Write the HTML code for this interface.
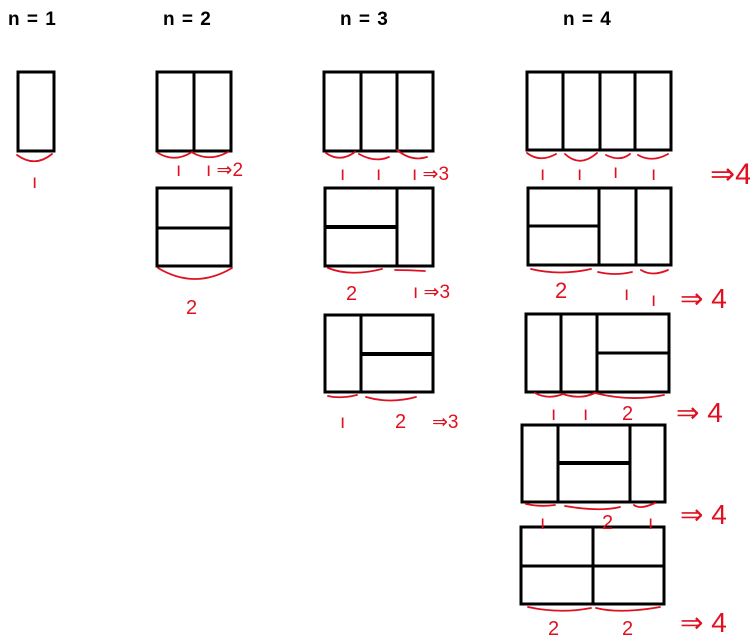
<!DOCTYPE html>
<html><head><style>body{margin:0;background:#fff}svg{display:block}</style></head><body>
<svg width="750" height="637" viewBox="0 0 750 637" xmlns="http://www.w3.org/2000/svg">
<g font-family="Liberation Sans, sans-serif" font-weight="bold" font-size="19" fill="#000" letter-spacing="1">
<text x="8" y="25">n = 1</text>
<text x="163" y="25">n = 2</text>
<text x="340" y="25">n = 3</text>
<text x="563" y="25">n = 4</text>
</g>
<g fill="none" stroke="#000" stroke-width="3">
<rect x="18" y="72" width="36" height="79"/>
<rect x="157" y="72" width="74" height="79"/><line x1="194" y1="72" x2="194" y2="151"/>
<rect x="157" y="188" width="74" height="78"/><line x1="157" y1="228" x2="231" y2="228"/>
<rect x="324" y="72" width="109" height="79"/><line x1="361" y1="72" x2="361" y2="151"/><line x1="397" y1="72" x2="397" y2="151"/>
<rect x="325" y="188" width="108" height="78"/><line x1="397" y1="188" x2="397" y2="266"/><line x1="325" y1="227" x2="397" y2="227" stroke-width="4"/>
<rect x="325" y="315" width="108" height="77"/><line x1="361" y1="315" x2="361" y2="392"/><line x1="361" y1="354" x2="433" y2="354" stroke-width="4"/>
<rect x="527" y="72" width="144" height="78"/><line x1="563" y1="72" x2="563" y2="150"/><line x1="600" y1="72" x2="600" y2="150"/><line x1="635" y1="72" x2="635" y2="150"/>
<rect x="528" y="188" width="143" height="77"/><line x1="599" y1="188" x2="599" y2="265"/><line x1="636" y1="188" x2="636" y2="265"/><line x1="528" y1="226" x2="599" y2="226"/>
<rect x="526" y="314" width="143" height="78"/><line x1="561" y1="314" x2="561" y2="392"/><line x1="597" y1="314" x2="597" y2="392"/><line x1="597" y1="353" x2="669" y2="353"/>
<rect x="522" y="425" width="143" height="77"/><line x1="558" y1="425" x2="558" y2="502"/><line x1="630" y1="425" x2="630" y2="502"/><line x1="558" y1="463" x2="630" y2="463" stroke-width="4"/>
<rect x="521" y="527" width="143" height="77"/><line x1="593" y1="527" x2="593" y2="604"/><line x1="521" y1="566" x2="664" y2="566"/>
</g>
<g fill="none" stroke="#e01020" stroke-width="1.8" stroke-linecap="round">
<path d="M17 155 Q35 168 52 154"/>
<path d="M158 153 Q175 163 192 152 M193 153 Q210 162 228 152"/>
<path d="M158 268 Q195 290 232 268"/>
<path d="M326 153 Q340 163 355 152 M359 154 Q375 163 389 157 M397 150 Q412 162 427 157"/>
<path d="M328 268 Q350 277 382 269 M395 270 Q408 270 425 271"/>
<path d="M328 396 Q340 399 357 395 M366 397 Q390 404 416 397"/>
<path d="M527 153 Q540 163 556 154 M565 154 Q580 168 597 153 M606 155 Q620 162 630 154 M638 155 Q652 163 668 154"/>
<path d="M531 269 Q560 276 591 269 M598 272 Q615 276 632 272 M641 270 Q652 277 668 270"/>
<path d="M535 393 Q548 400 563 394 Q580 400 595 393 Q630 402 664 395"/>
<path d="M526 504 Q540 507 555 505 M565 506 Q600 512 620 507 M634 505 Q640 510 655 503"/>
<path d="M528 607 Q560 614 591 608 M596 608 Q620 614 660 607"/>
</g>
<g fill="#e01020" font-family="Liberation Sans, sans-serif" font-size="19">
<text x="32" y="188">ı</text>
<text x="176" y="176">ı</text><text x="206" y="176">ı ⇒2</text>
<text x="186" y="314" font-size="20">2</text>
<text x="340" y="180">ı</text><text x="376" y="180">ı</text><text x="412" y="180">ı ⇒3</text>
<text x="346" y="300" font-size="20">2</text><text x="413" y="298">ı ⇒3</text>
<text x="340" y="428">ı</text><text x="395" y="428" font-size="20">2</text><text x="432" y="428">⇒3</text>
<text x="540" y="180">ı</text><text x="577" y="180">ı</text><text x="613" y="178">ı</text><text x="651" y="180">ı</text>
<text x="710" y="184" font-size="30">⇒4</text>
<text x="555" y="298" font-size="22">2</text><text x="624" y="300">ı</text><text x="651" y="306">ı</text>
<text x="680" y="308" font-size="28">⇒ 4</text>
<text x="551" y="420">ı</text><text x="583" y="420">ı</text><text x="622" y="420" font-size="20">2</text>
<text x="676" y="422" font-size="28">⇒ 4</text>
<text x="540" y="529">ı</text><text x="602" y="529" font-size="20">2</text><text x="648" y="529">ı</text>
<text x="680" y="524" font-size="28">⇒ 4</text>
<text x="548" y="635" font-size="20">2</text><text x="622" y="635" font-size="20">2</text>
<text x="680" y="632" font-size="28">⇒ 4</text>
</g>
</svg>
</body></html>
